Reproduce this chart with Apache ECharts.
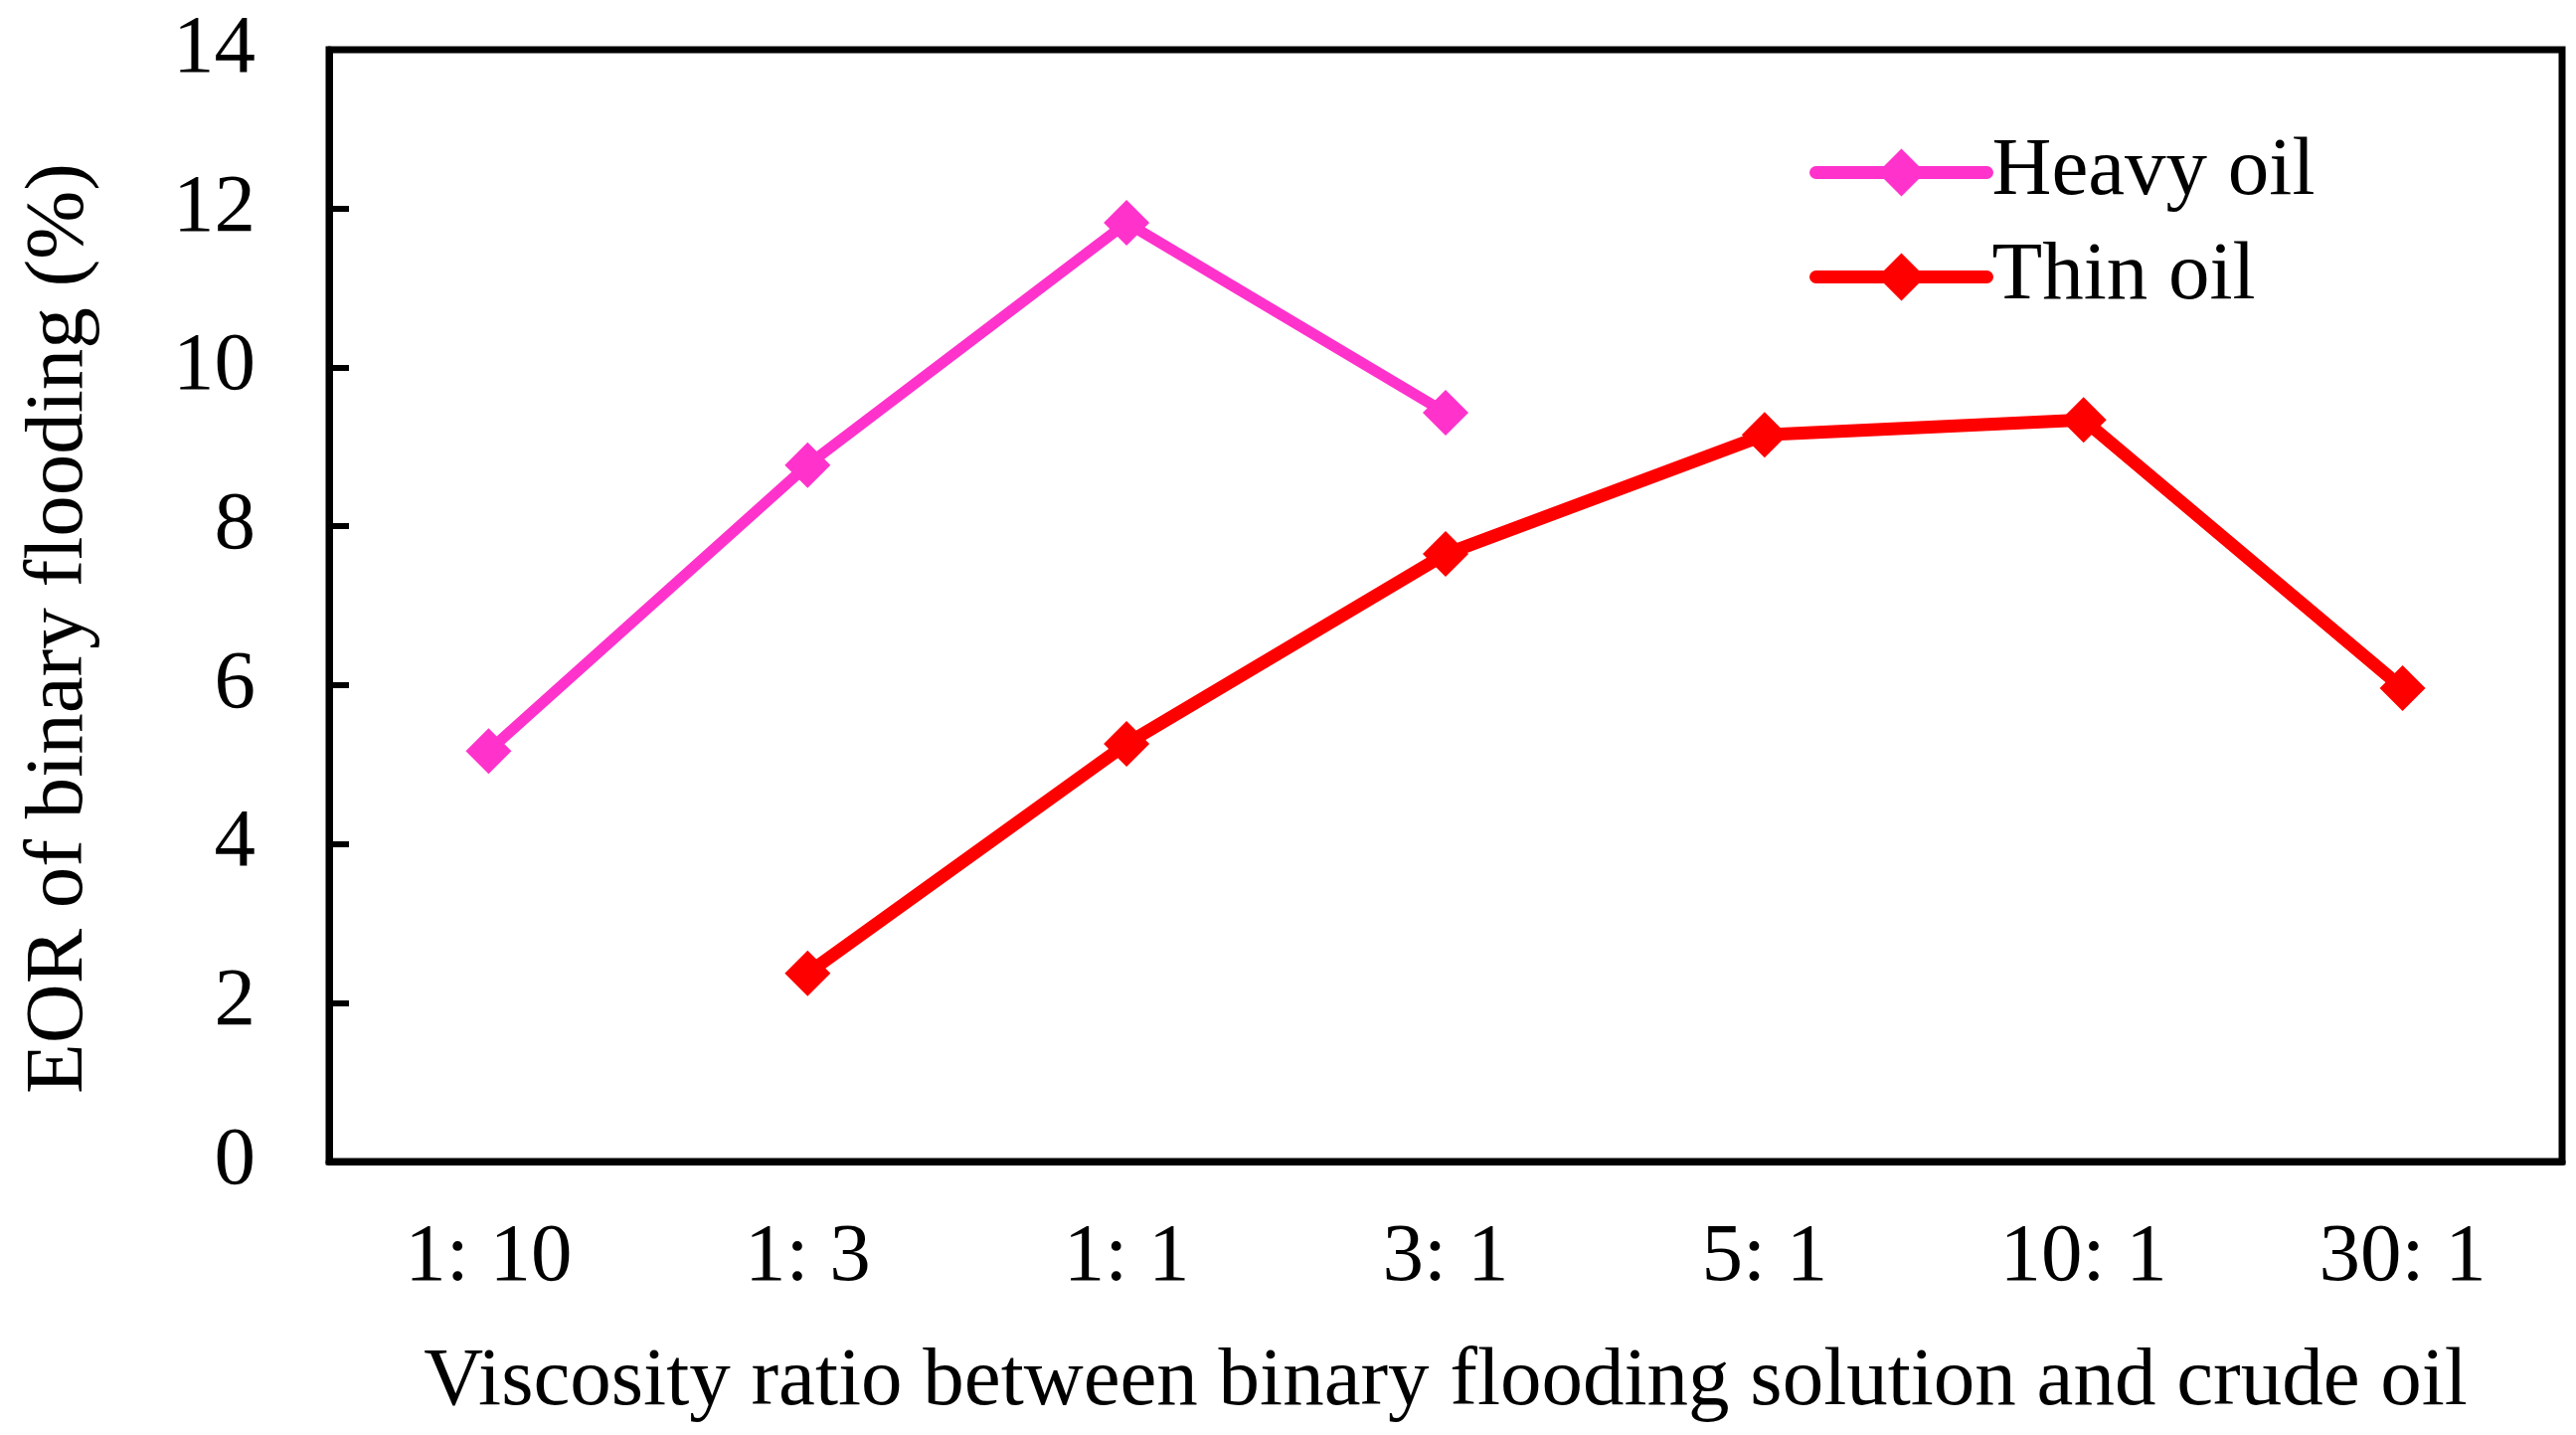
<!DOCTYPE html>
<html lang="en">
<head>
    <meta charset="UTF-8">
    <script src="https://cdn.jsdelivr.net/npm/echarts@6/dist/echarts.min.js"></script>
    <style>
        html, body { margin: 0; padding: 0; background: #fff; }
        #main { width: 2591px; height: 1443px; }
    </style>
</head>
<body>

<div id="main"></div>

<script type="text/javascript">
    // x categories (viscosity ratio)
    var ratios = ['1: 10', '1: 3', '1: 1', '3: 1', '5: 1', '10: 1', '30: 1'];
    // EOR values, null = no point
    var heavyOil = [5.17, 8.77, 11.82, 9.43, null, null, null];
    var thinOil = [null, 2.37, 5.26, 7.65, 9.15, 9.34, 5.96];
    var yTicks = [0, 2, 4, 6, 8, 10, 12, 14];

    var font = "'Times New Roman', 'Liberation Serif', serif";
    var fs = 83;

    var myChart = echarts.init(document.getElementById('main'));

    var option = {
        backgroundColor: '#fff',
        animation: false,
        grid: {
            left: 331, right: 14, top: 50, bottom: 275,
            show: true,
            borderColor: '#000',
            borderWidth: 7,
            backgroundColor: 'transparent'
        },
        legend: {
            orient: 'vertical',
            left: 1820,
            top: 132,
            padding: 0,
            itemWidth: 172,
            itemHeight: 60,
            itemGap: 22,
            lineStyle: { width: 13, cap: 'round' },
            textStyle: { fontFamily: font, fontSize: fs, lineHeight: 83, color: '#000' },
            data: ['Heavy oil', 'Thin oil']
        },
        xAxis: {
            type: 'category',
            data: ratios,
            boundaryGap: true,
            name: 'Viscosity ratio between binary flooding solution and crude oil',
            nameLocation: 'middle',
            nameGap: 181,
            nameTextStyle: { fontFamily: font, fontSize: fs, lineHeight: 83, color: '#000' },
            axisLine: { lineStyle: { color: '#000', width: 7 } },
            axisTick: { inside: true, length: 22, lineStyle: { color: '#000', width: 6 } },
            axisLabel: { fontFamily: font, fontSize: fs, lineHeight: 83, color: '#000', margin: 56 },
            splitLine: { show: false }
        },
        yAxis: {
            type: 'value',
            min: yTicks[0],
            max: yTicks[yTicks.length - 1],
            interval: 2,
            name: 'EOR of binary flooding (%)',
            nameLocation: 'middle',
            nameGap: 229,
            nameTextStyle: { fontFamily: font, fontSize: fs, lineHeight: 83, color: '#000', padding: [0, 46, 0, 0] },
            axisLine: { show: true, lineStyle: { color: '#000', width: 7 } },
            axisTick: { show: true, inside: true, length: 20, lineStyle: { color: '#000', width: 6 } },
            axisLabel: { fontFamily: font, fontSize: fs, color: '#000', margin: 74 },
            splitLine: { show: false }
        },
        series: [
            {
                name: 'Heavy oil',
                type: 'line',
                data: heavyOil,
                symbol: 'diamond',
                symbolSize: 46,
                showAllSymbol: true,
                color: '#FF33CC',
                lineStyle: { width: 11, cap: 'round', join: 'round' },
                itemStyle: { color: '#FF33CC' }
            },
            {
                name: 'Thin oil',
                type: 'line',
                data: thinOil,
                symbol: 'diamond',
                symbolSize: 46,
                showAllSymbol: true,
                color: '#FF0000',
                lineStyle: { width: 13, cap: 'round', join: 'round' },
                itemStyle: { color: '#FF0000' }
            }
        ]
    };

    myChart.setOption(option);
</script>
</body>
</html>
